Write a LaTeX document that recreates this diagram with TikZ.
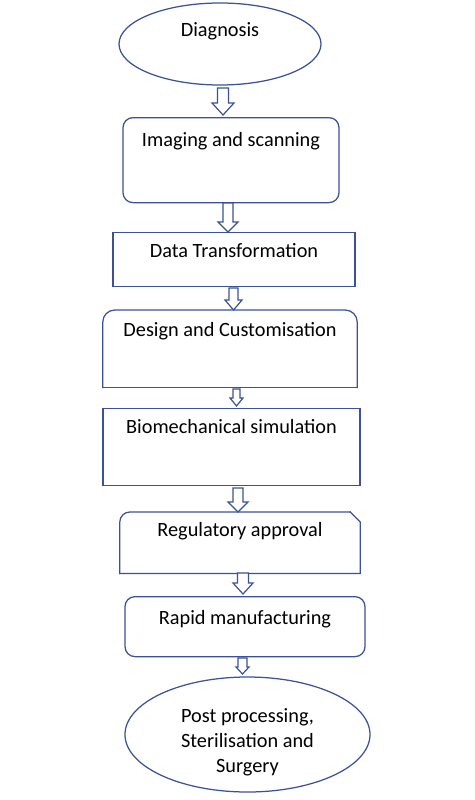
\documentclass[tikz,border=0pt]{standalone}
\usepackage{fontspec}
\setmainfont{Carlito}
\usetikzlibrary{shapes.geometric}
\definecolor{lineblue}{RGB}{60,82,152}
\newcommand{\blockarrow}[6]{% cx, top, tip, head half width, shaft half width, head start
  \draw[blk] ({#1-#5},#2) -- ({#1+#5},#2) -- ({#1+#5},#6) -- ({#1+#4},#6) -- (#1,#3) -- ({#1-#4},#6) -- ({#1-#5},#6) -- cycle;}
\begin{document}
\begin{tikzpicture}[x=1pt,y=-1pt,
  font=\fontsize{20.3}{25}\selectfont,
  shp/.style={draw=lineblue, line width=1.25pt, inner sep=0pt, anchor=north},
  boxnode/.style={inner sep=0pt, anchor=north},
  edge/.style={draw=lineblue, line width=1.25pt, line cap=rect},
  blk/.style={draw=lineblue, line width=1.2pt, fill=white, line join=miter}]
\useasboundingbox (0,0) rectangle (474,800);

\node[shp, ellipse, anchor=center, minimum width=202pt, minimum height=82pt,
      text height=0pt, text depth=14pt] (diag) at (220,44) {Diagnosis};

\node[shp, rounded corners=10pt, minimum width=216pt,
      text height=29pt, text depth=56pt] (img) at (231,117) {Imaging and scanning};

\node[shp, minimum width=242pt, text height=25pt, text depth=29pt] (data) at (234,232) {Data Transformation};

\node[boxnode, minimum width=254pt, text height=26pt, text depth=51pt] (des) at (230,310) {Design and Customisation};
\draw[edge, rounded corners=12pt] (des.south west) -- (des.north west) -- (des.north east) -- (des.south east);
\draw[edge] (des.south west) -- (des.south east);

\node[shp, minimum width=257pt, text height=25pt, text depth=52pt] (bio) at (231.5,408) {Biomechanical simulation};

\node[boxnode, minimum width=240pt, text height=24pt, text depth=37pt] (reg) at (240,512) {Regulatory approval};
\draw[edge, rounded corners=10pt] (reg.south west) -- (reg.north west) -- ([xshift=-10pt]reg.north east);
\draw[edge] ([xshift=-10pt]reg.north east) -- ([yshift=-10pt]reg.north east) -- (reg.south east) -- (reg.south west);

\node[shp, rounded corners=10pt, minimum width=240pt, text height=28pt, text depth=32pt] (rap) at (245,596) {Rapid manufacturing};

\node[shp, ellipse, anchor=center, minimum width=245pt, minimum height=115pt,
      text height=76pt, text depth=0pt] (post) at (247.5,734.5)
      {\vbox{\baselineskip=25pt \halign{\hfil#\hfil\cr Post processing,\cr Sterilisation and\cr Surgery\cr}}};

\blockarrow{223}{88}{115}{11}{5.5}{103}
\blockarrow{228}{203}{232}{10}{5}{222}
\blockarrow{233.5}{288}{310}{8.5}{4.5}{300}
\blockarrow{236.5}{389}{406}{6.5}{3.5}{398}
\blockarrow{238}{488}{512}{10}{5}{502}
\blockarrow{243}{573}{594}{10}{5.5}{583}
\blockarrow{242.5}{658}{674}{6.5}{4.5}{667}
\end{tikzpicture}
\end{document}
